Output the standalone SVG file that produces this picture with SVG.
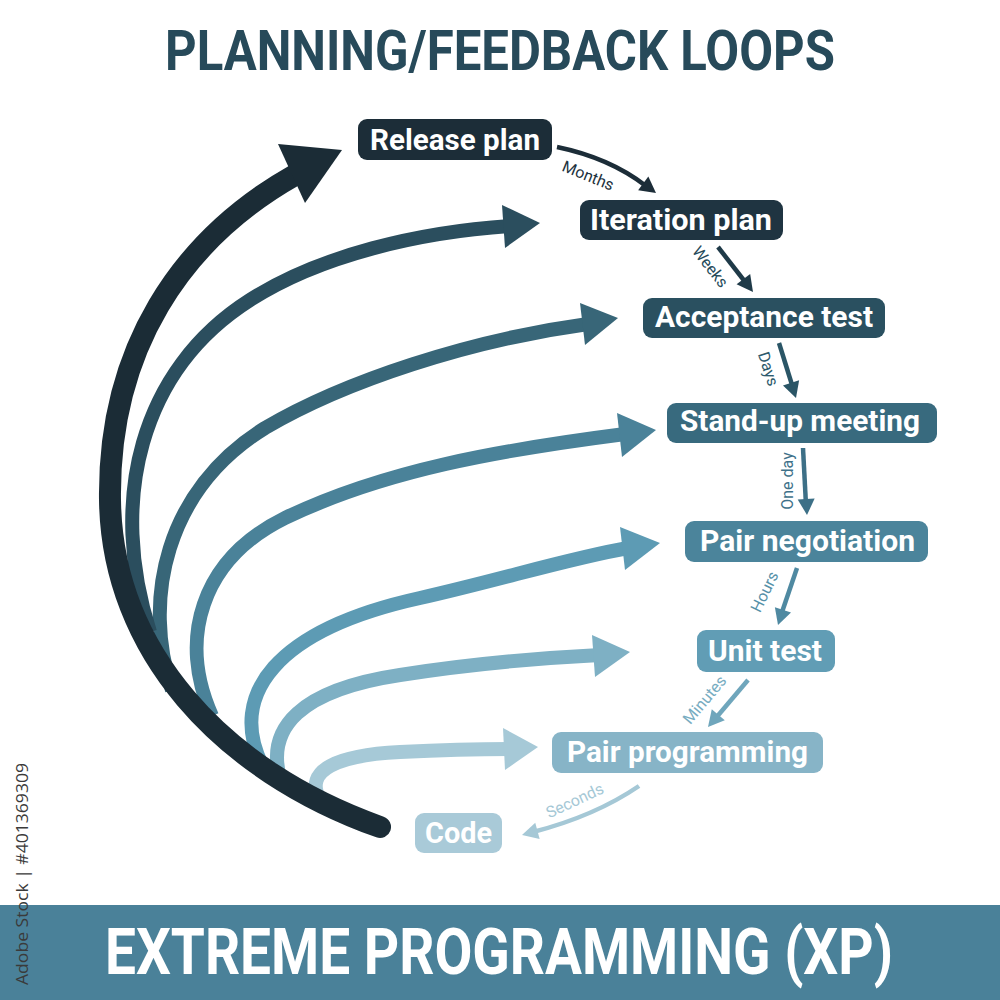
<svg xmlns="http://www.w3.org/2000/svg" xmlns:xlink="http://www.w3.org/1999/xlink" width="1000" height="1000" viewBox="0 0 1000 1000">
<defs>
<style>
.title{font-family:"Roboto","Liberation Sans",sans-serif;font-weight:700;}
.node text{font-family:"Roboto","Liberation Sans",sans-serif;font-weight:700;font-size:30px;fill:#ffffff;}
.lbl{font-family:"Roboto","Liberation Sans",sans-serif;font-size:16px;text-anchor:middle;}
.big{fill:none;stroke-width:14;}
.small{fill:none;stroke-width:4.5;}
</style>
<path id="ah" d="M0,0 L-16,-8.5 L-16,8.5 Z"/>
</defs>
<rect x="0" y="0" width="1000" height="1000" fill="#ffffff"/>
<text class="title" x="500" y="70" font-size="56" fill="#274a5a" text-anchor="middle" textLength="670" lengthAdjust="spacingAndGlyphs">PLANNING/FEEDBACK LOOPS</text>

<g id="loops">
<path class="big" stroke="#a6c9d7" d="M320,800 C303,770 338,755 400,752 C440,750 475,749 510,749"/>
<polygon fill="#a6c9d7" points="503,728 538,747 505,770"/>
<path class="big" stroke="#7eb0c4" d="M280,778 C266,728 300,690 400,675 C470,664 540,658 600,655"/>
<polygon fill="#7eb0c4" points="592,635 630,652 595,677"/>
<path class="big" stroke="#5d9bb4" d="M262,765 C228,695 275,630 420,598 C500,580 570,558 628,548"/>
<polygon fill="#5d9bb4" points="620,527 660,543 625,570"/>
<path class="big" stroke="#4a8299" d="M212,716 C178,640 200,560 285,518 C385,470 500,450 625,434"/>
<polygon fill="#4a8299" points="617,413 656,430 622,457"/>
<path class="big" stroke="#386678" d="M172,690 C142,600 165,490 265,428 C345,381 470,340 588,324"/>
<polygon fill="#386678" points="580,303 618,318 585,345"/>
<path class="big" stroke="#2b4e5e" d="M150,632 C108,500 140,370 250,300 C320,255 420,232 510,226"/>
<polygon fill="#2b4e5e" points="502,205 540,223 505,248"/>
<path fill="none" stroke="#1b2c36" stroke-width="22" stroke-linecap="round" d="M380,827 C220,770 112,650 110,500 C108,350 180,240 295,175"/>
<polygon fill="#1b2c36" points="278,144 342,150 305,203"/>
</g>

<g id="connectors">
<path class="small" stroke="#1c2d38" d="M557,147 Q610,158 646,186"/>
<use xlink:href="#ah" fill="#1c2d38" transform="translate(656,193) rotate(37)"/>
<path class="small" stroke="#1f3a48" d="M718,247 L746,283"/>
<use xlink:href="#ah" fill="#1f3a48" transform="translate(753,292) rotate(53)"/>
<path class="small" stroke="#2a5566" d="M779,343 L793,388"/>
<use xlink:href="#ah" fill="#2a5566" transform="translate(796,398) rotate(72)"/>
<path class="small" stroke="#3d7087" d="M803,448 L806,505"/>
<use xlink:href="#ah" fill="#3d7087" transform="translate(807,515) rotate(87)"/>
<path class="small" stroke="#4f89a1" d="M797,568 L781,615"/>
<use xlink:href="#ah" fill="#4f89a1" transform="translate(778,625) rotate(108)"/>
<path class="small" stroke="#6fa6bc" d="M748,680 L715,719"/>
<use xlink:href="#ah" fill="#6fa6bc" transform="translate(708,727) rotate(130)"/>
<path class="small" stroke="#a5c8d6" d="M639,786 Q595,816 533,832"/>
<use xlink:href="#ah" fill="#a5c8d6" transform="translate(522,835) rotate(165)"/>

<text class="lbl" fill="#1e3340" transform="translate(588,176) rotate(22)" dy="5">Months</text>
<text class="lbl" fill="#264b5a" transform="translate(710,267) rotate(52)" dy="5">Weeks</text>
<text class="lbl" fill="#2e5b6d" transform="translate(768,369) rotate(72)" dy="5">Days</text>
<text class="lbl" fill="#3e7189" transform="translate(788,481) rotate(-90)" dy="5">One day</text>
<text class="lbl" fill="#5690a8" transform="translate(765,592) rotate(-64)" dy="5">Hours</text>
<text class="lbl" fill="#77acc1" transform="translate(705,700) rotate(-50)" dy="5">Minutes</text>
<text class="lbl" fill="#a5c8d6" transform="translate(575,801) rotate(-25)" dy="5">Seconds</text>
</g>

<g id="node-release" class="node"><rect x="358" y="119" width="194" height="41" rx="9" fill="#1c2d38"/><text x="370" y="150" textLength="170" lengthAdjust="spacingAndGlyphs">Release plan</text></g>
<g id="node-iteration" class="node"><rect x="580" y="200" width="203" height="40" rx="9" fill="#1f3441"/><text x="590" y="230" textLength="182" lengthAdjust="spacingAndGlyphs">Iteration plan</text></g>
<g id="node-acceptance" class="node"><rect x="643" y="298" width="242" height="40" rx="9" fill="#2a5060"/><text x="655" y="327" textLength="218" lengthAdjust="spacingAndGlyphs">Acceptance test</text></g>
<g id="node-standup" class="node"><rect x="667" y="403" width="270" height="40" rx="9" fill="#386a7e"/><text x="680" y="431" textLength="240" lengthAdjust="spacingAndGlyphs">Stand-up meeting</text></g>
<g id="node-pairneg" class="node"><rect x="685" y="521" width="243" height="41" rx="9" fill="#4b849b"/><text x="700" y="551" textLength="215" lengthAdjust="spacingAndGlyphs">Pair negotiation</text></g>
<g id="node-unittest" class="node"><rect x="697" y="630" width="138" height="42" rx="9" fill="#619db5"/><text x="708" y="661" textLength="114" lengthAdjust="spacingAndGlyphs">Unit test</text></g>
<g id="node-pairprog" class="node"><rect x="552" y="732" width="271" height="41" rx="9" fill="#87b4c7"/><text x="567" y="762" textLength="241" lengthAdjust="spacingAndGlyphs">Pair programming</text></g>
<g id="node-code" class="node"><rect x="415" y="813" width="87" height="40" rx="9" fill="#a9cad8"/><text x="425" y="843" textLength="67" lengthAdjust="spacingAndGlyphs">Code</text></g>

<rect x="0" y="905" width="1000" height="95" fill="#4a8199"/>
<text class="title" x="499" y="974" font-size="64" fill="#ffffff" text-anchor="middle" textLength="788" lengthAdjust="spacingAndGlyphs">EXTREME PROGRAMMING (XP)</text>
<text transform="translate(28,985) rotate(-90)" font-family="Open Sans, DejaVu Sans, sans-serif" font-size="16" fill="#3a3a3a" textLength="222" lengthAdjust="spacingAndGlyphs">Adobe Stock | #401369309</text>
</svg>
